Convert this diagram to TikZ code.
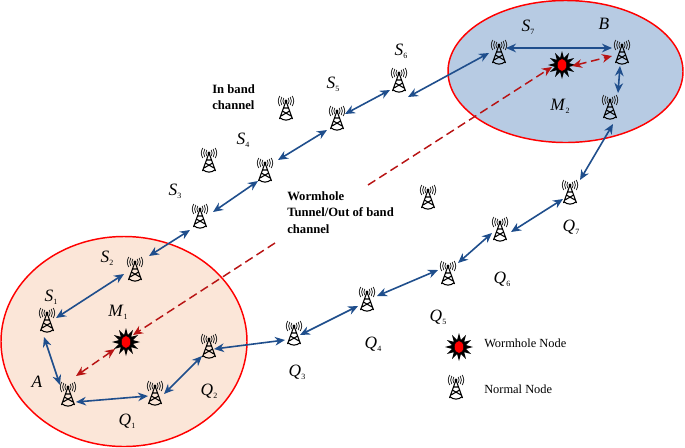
\documentclass[tikz,border=0pt]{standalone}
\usepackage{fontspec}
\setmainfont{Liberation Serif}
\usetikzlibrary{arrows.meta,shapes.geometric,calc}
\tikzset{
  towerbox/.style={circle,inner sep=0pt,minimum size=18pt},
  tower/.pic={
    \draw[line width=0.8pt,black]
      (0,-7) -- (-6.5,11) (0,-7) -- (6.5,11)
      (-2.8,0) -- (2.8,0) (-3.6,3) -- (5,8) (3.6,3) -- (-5,8)
      (-6.5,9.5) .. controls (-2,13) and (2,13) .. (6.5,9.5);
    \fill (0,-7) circle (1.6);
    \draw[line width=0.6pt,black!85]
      (-2.2,-10) .. controls (-3.4,-8) and (-3.4,-6) .. (-2.2,-4)
      (2.2,-10) .. controls (3.4,-8) and (3.4,-6) .. (2.2,-4)
      (-4.2,-11) .. controls (-5.8,-8.5) and (-5.8,-5.5) .. (-4.2,-3)
      (4.2,-11) .. controls (5.8,-8.5) and (5.8,-5.5) .. (4.2,-3)
      (-6.2,-12) .. controls (-8.2,-9) and (-8.2,-5) .. (-6.2,-2)
      (6.2,-12) .. controls (8.2,-9) and (8.2,-5) .. (6.2,-2);
  },
  wstar/.style={star,star points=12,star point ratio=1.9,fill=black,inner sep=0pt,minimum size=21pt},
  wcore/.style={ellipse,fill=red,draw=black,line width=0.3pt,inner sep=0pt,minimum width=7pt,minimum height=9.5pt},
  zone/.style={draw=red,line width=1.1pt},
  link/.style={{Stealth[length=7.5pt,width=6.5pt]}-{Stealth[length=7.5pt,width=6.5pt]},draw=linkblue,line width=1.2pt},
  tunnel/.style={-{Stealth[length=7.5pt,width=6.5pt]},draw=tunnelred,line width=1.1pt,dash pattern=on 6.5pt off 3.5pt},
  tunnelboth/.style={tunnel,{Stealth[length=7.5pt,width=6.5pt]}-{Stealth[length=7.5pt,width=6.5pt]}},
  lab/.style={font=\fontsize{13}{15}\selectfont,inner sep=0pt},
  txt/.style={font=\fontsize{9.3}{12.7}\selectfont,inner sep=0pt,anchor=west},
  btxt/.style={font=\fontsize{9.5}{12.7}\selectfont\bfseries,inner sep=0pt,align=left,anchor=north west},
}
\definecolor{linkblue}{HTML}{1F4E8C}
\definecolor{tunnelred}{HTML}{B81414}
\definecolor{zoneorange}{HTML}{FBE6D8}
\definecolor{zoneblue}{HTML}{B7CBE3}
\newcommand{\towerat}[3]{\node[towerbox] (#1) at (#2,#3) {}; \pic at (#1) {tower};}
\newcommand{\starat}[3]{\node[wstar] (#1) at (#2,#3) {}; \node[wcore] (#1core) at (#1) {};}
\newcommand{\sublab}[2]{\textit{#1}\raisebox{-2.5pt}{\fontsize{6}{7}\selectfont #2}}
\begin{document}
\begin{tikzpicture}[x=0.75pt,y=-0.75pt]
\useasboundingbox (0,0) rectangle (685,447);
% zones
\draw[zone,fill=zoneorange] (124,341.5) ellipse [x radius=123,y radius=105];
\draw[zone,fill=zoneblue] (565.5,71.5) ellipse [x radius=117.5,y radius=71];
% towers
\towerat{a}{68}{394}
\towerat{s1}{47}{320}
\towerat{s2}{135}{269}
\towerat{s3}{200}{216}
\towerat{s4}{265}{170}
\towerat{s5}{337}{118}
\towerat{s6}{399}{80}
\towerat{s7}{499}{52}
\towerat{b}{622}{52}
\towerat{q1}{155}{393}
\towerat{q2}{209}{346}
\towerat{q3}{294}{333}
\towerat{q4}{367}{299}
\towerat{q5}{448}{273}
\towerat{q6}{500}{229}
\towerat{q7}{570}{192}
\towerat{q8}{610}{107}
\towerat{x1}{209}{160}
\towerat{x2}{286}{108}
\towerat{x3}{428}{197}
\towerat{legtower}{456}{387}
% wormhole nodes
\starat{m1}{126}{342}
\starat{m2}{562}{65}
\starat{legstar}{459}{347}
\coordinate (gapa) at (275,243);
\coordinate (gapb) at (368,185);
% links
\draw[link] ($(a)+(-8,-9)$) -- ($(s1)+(-3,17)$);
\draw[link] ($(s1)+(9,-2)$) -- ($(s2)+(-11,5)$);
\draw[link] ($(s2)+(14,-13)$) -- ($(s3)+(-10,14)$);
\draw[link] ($(s3)+(13,-4)$) -- ($(s4)+(-7,11)$);
\draw[link] ($(s4)+(13,-10)$) -- ($(s5)+(-10,12)$);
\draw[link] ($(s5)+(8,-4)$) -- ($(s6)+(-9,10)$);
\draw[link] ($(s6)+(9,17)$) -- ($(s7)+(-10,1)$);
\draw[link] ($(s7)+(7,-4)$) -- ($(b)+(-10,-4)$);
\draw[link] ($(b)+(-2,14)$) -- ($(q8)+(8,-14)$);
\draw[link] ($(q8)+(3,17)$) -- ($(q7)+(10,-12)$);
\draw[link] ($(q7)+(-7,7)$) -- ($(q6)+(11,3)$);
\draw[link] ($(q6)+(-8,4)$) -- ($(q5)+(10,-10)$);
\draw[link] ($(q5)+(-10,-3)$) -- ($(q4)+(10,-3)$);
\draw[link] ($(q4)+(-9,7)$) -- ($(q3)+(6,2)$);
\draw[link] ($(q3)+(-9,7)$) -- ($(q2)+(5,3)$);
\draw[link] ($(q2)+(-7,10)$) -- ($(q1)+(9,1)$);
\draw[link] ($(q1)+(-7,3)$) -- ($(a)+(8,8)$);
% tunnel
\draw[tunnel] (gapa) -- ($(m1)+(7,-7)$);
\draw[tunnel] (gapb) -- ($(m2)+(-10,2)$);
\draw[tunnelboth] ($(a)+(8,-18)$) -- ($(m1)+(-11,7)$);
\draw[tunnelboth] ($(m2)+(10,1)$) -- ($(b)+(-10,4)$);
% labels
\node[lab] (ls1) at (51,297) {\sublab{S}{1}};
\node[lab] (ls2) at (107,258) {\sublab{S}{2}};
\node[lab] (ls3) at (175,191) {\sublab{S}{3}};
\node[lab] (ls4) at (243,140) {\sublab{S}{4}};
\node[lab] (ls5) at (333,84) {\sublab{S}{5}};
\node[lab] (ls6) at (401,51) {\sublab{S}{6}};
\node[lab] (ls7) at (528,27) {\sublab{S}{7}};
\node[lab] (lb) at (604,24) {\textit{B}};
\node[lab] (la) at (37,382) {\textit{A}};
\node[lab] (lm1) at (118,312) {\sublab{M}{1}};
\node[lab] (lm2) at (560,106) {\sublab{M}{2}};
\node[lab] (lq1) at (127,421) {\sublab{Q}{1}};
\node[lab] (lq2) at (209,391) {\sublab{Q}{2}};
\node[lab] (lq3) at (297,372) {\sublab{Q}{3}};
\node[lab] (lq4) at (373,344) {\sublab{Q}{4}};
\node[lab] (lq5) at (438,317) {\sublab{Q}{5}};
\node[lab] (lq6) at (502,279) {\sublab{Q}{6}};
\node[lab] (lq7) at (571,227) {\sublab{Q}{7}};
\node[btxt] (inband) at (212,84) {In band\\channel};
\node[btxt] (tunneltxt) at (287,191) {Wormhole\\Tunnel/Out of band\\channel};
\node[txt] (legw) at (484,343) {Wormhole Node};
\node[txt] (legn) at (484,389) {Normal Node};
\end{tikzpicture}
\end{document}
